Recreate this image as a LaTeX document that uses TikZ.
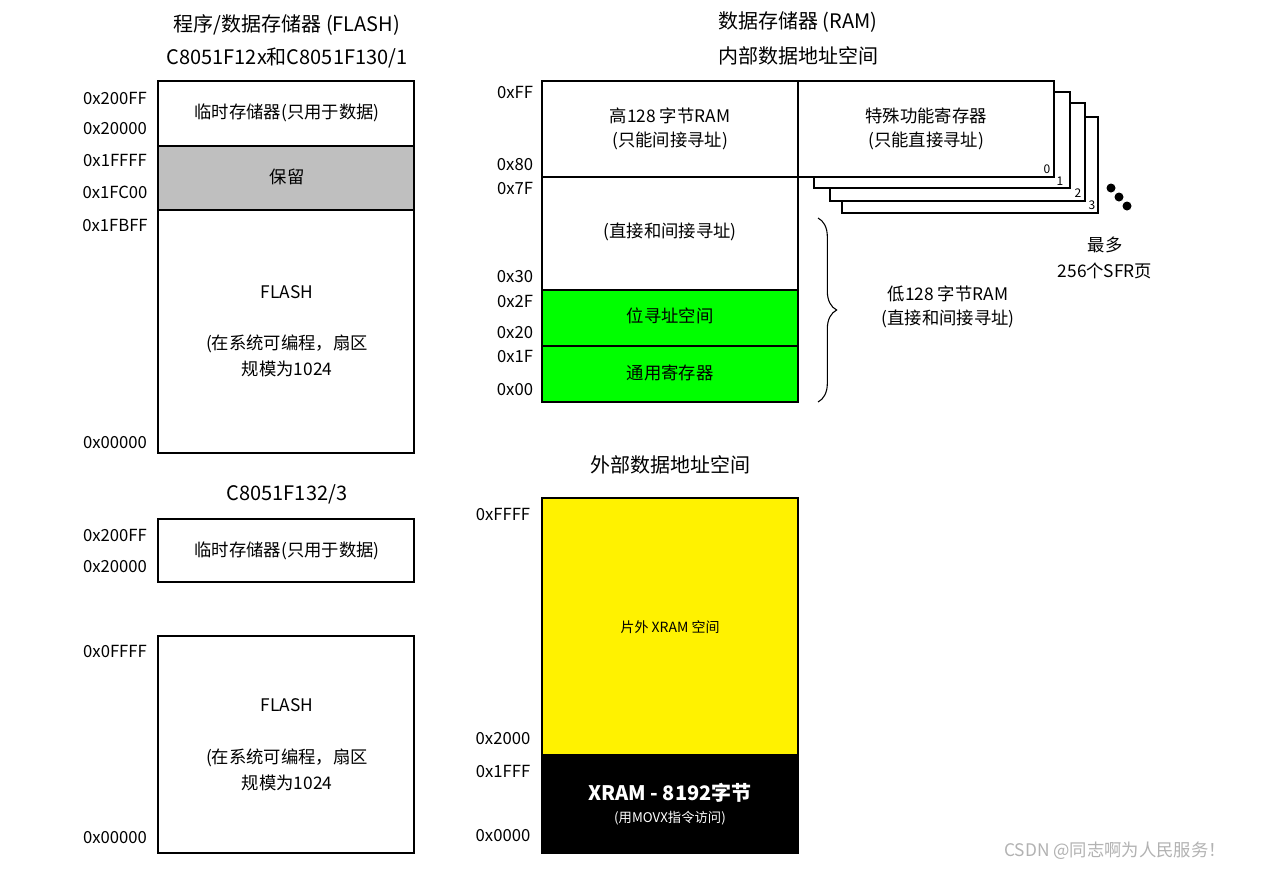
\documentclass[tikz,border=0pt]{standalone}
\usepackage{fontspec}
\setmainfont{Noto Sans CJK SC}
\usetikzlibrary{decorations.pathreplacing}
\begin{document}
\begin{tikzpicture}[x=0.75pt,y=-0.75pt,
  bx/.style={draw=black,line width=1.2pt},
  t/.style={font=\fontsize{13}{15}\selectfont,inner sep=0pt,align=center},
  lb/.style={font=\fontsize{12.5}{15}\selectfont,inner sep=0pt,anchor=center},
  ttl/.style={font=\fontsize{15}{17}\selectfont,inner sep=0pt}]
\useasboundingbox (0,0) rectangle (1279,872);
\fill[white] (0,0) rectangle (1279,872);
% left top
\node[ttl] (t1) at (287,25) {程序/数据存储器 (FLASH)};
\node[ttl] (t2) at (287,58) {C8051F12x和C8051F130/1};
\draw[bx] (158,81) rectangle (414,146);
\filldraw[bx,fill=black!25] (158,146) rectangle (414,210);
\draw[bx] (158,210) rectangle (414,453);
\node[t] (a1) at (287,113) {临时存储器(只用于数据)};
\node[t] (a2) at (287,177) {保留};
\node[t] (a3) at (287,292) {FLASH};
\node[t] (a4) at (287,356) {(在系统可编程，扇区\\[4pt]规模为1024};
\foreach \s/\y in {0x200FF/98,0x20000/129,0x1FFFF/160,0x1FC00/192,0x1FBFF/225,0x00000/443}
  \node[lb] at (115,\y) {\s};
% left bottom
\node[ttl] (t3) at (287,494) {C8051F132/3};
\draw[bx] (158,519) rectangle (414,582);
\node[t] (b1) at (287,551) {临时存储器(只用于数据)};
\draw[bx] (158,636) rectangle (414,853);
\node[t] (b2) at (287,705) {FLASH};
\node[t] (b3) at (287,770) {(在系统可编程，扇区\\[4pt]规模为1024};
\foreach \s/\y in {0x200FF/535,0x20000/567,0x0FFFF/651,0x00000/838}
  \node[lb] at (115,\y) {\s};
% RAM
\node[ttl] (t4) at (798,22) {数据存储器 (RAM)};
\node[ttl] (t5) at (798,56) {内部数据地址空间};
\filldraw[bx,fill=white] (842,117) rectangle (1098,213);
\filldraw[bx,fill=white] (830,103) rectangle (1085,201);
\filldraw[bx,fill=white] (814,92) rectangle (1070,188);
\filldraw[bx,fill=white] (798,81) rectangle (1054,177);
\node[font=\small,inner sep=0pt] at (1047,169) {0};
\node[font=\small,inner sep=0pt] at (1060,181) {1};
\node[font=\small,inner sep=0pt] at (1078,193) {2};
\node[font=\small,inner sep=0pt] at (1092,205) {3};
\fill (1111,188) circle (4.5);
\fill (1119,197) circle (4.5);
\fill (1127,206) circle (4.5);
\node[t,font=\fontsize{13}{15}\selectfont\itshape] (m1) at (1105,245) {最多};
\node[t,font=\fontsize{13}{15}\selectfont\itshape] (m2) at (1105,271) {256个SFR页};
\draw[bx] (542,81) rectangle (798,177);
\draw[bx] (542,177) rectangle (798,290);
\filldraw[bx,fill=green] (542,290) rectangle (798,346);
\filldraw[bx,fill=green] (542,346) rectangle (798,402);
\node[t] at (670,129) {高128 字节RAM\\[3pt](只能间接寻址)};
\node[t] at (926,129) {特殊功能寄存器\\[3pt](只能直接寻址)};
\node[t] at (670,232) {(直接和间接寻址)};
\node[t] at (670,316) {位寻址空间};
\node[t] at (670,373) {通用寄存器};
\foreach \s/\y in {0xFF/92,0x80/165,0x7F/188,0x30/277,0x2F/301,0x20/333,0x1F/356,0x00/390}
  \node[lb] at (515,\y) {\s};
\coordinate (bt) at (818,218); \coordinate (bb) at (818,402);
\draw[line width=0.8pt,decorate,decoration={brace,amplitude=14pt}] (bt) -- (bb);
\node[t] (low) at (948,307) {低128 字节RAM\\[3pt](直接和间接寻址)};
% external
\node[ttl] (t6) at (670,465) {外部数据地址空间};
\filldraw[bx,fill=yellow] (542,498) rectangle (798,755);
\filldraw[bx,fill=black] (542,755) rectangle (798,853);
\node[t,font=\fontsize{10.5}{12}\selectfont] at (670,627) {片外 XRAM 空间};
\node[t,text=white,font=\fontsize{15}{17}\selectfont\bfseries] at (670,793) {XRAM - 8192字节};
\node[t,text=white,font=\fontsize{10}{12}\selectfont] at (670,818) {(用MOVX指令访问)};
\foreach \s/\y in {0xFFFF/514,0x2000/739,0x1FFF/771,0x0000/836}
  \node[lb] at (503,\y) {\s};
\node[inner sep=0pt,text=black!30,font=\fontsize{13}{15}\selectfont] at (1115,851) {CSDN @同志啊为人民服务！};
\end{tikzpicture}
\end{document}
